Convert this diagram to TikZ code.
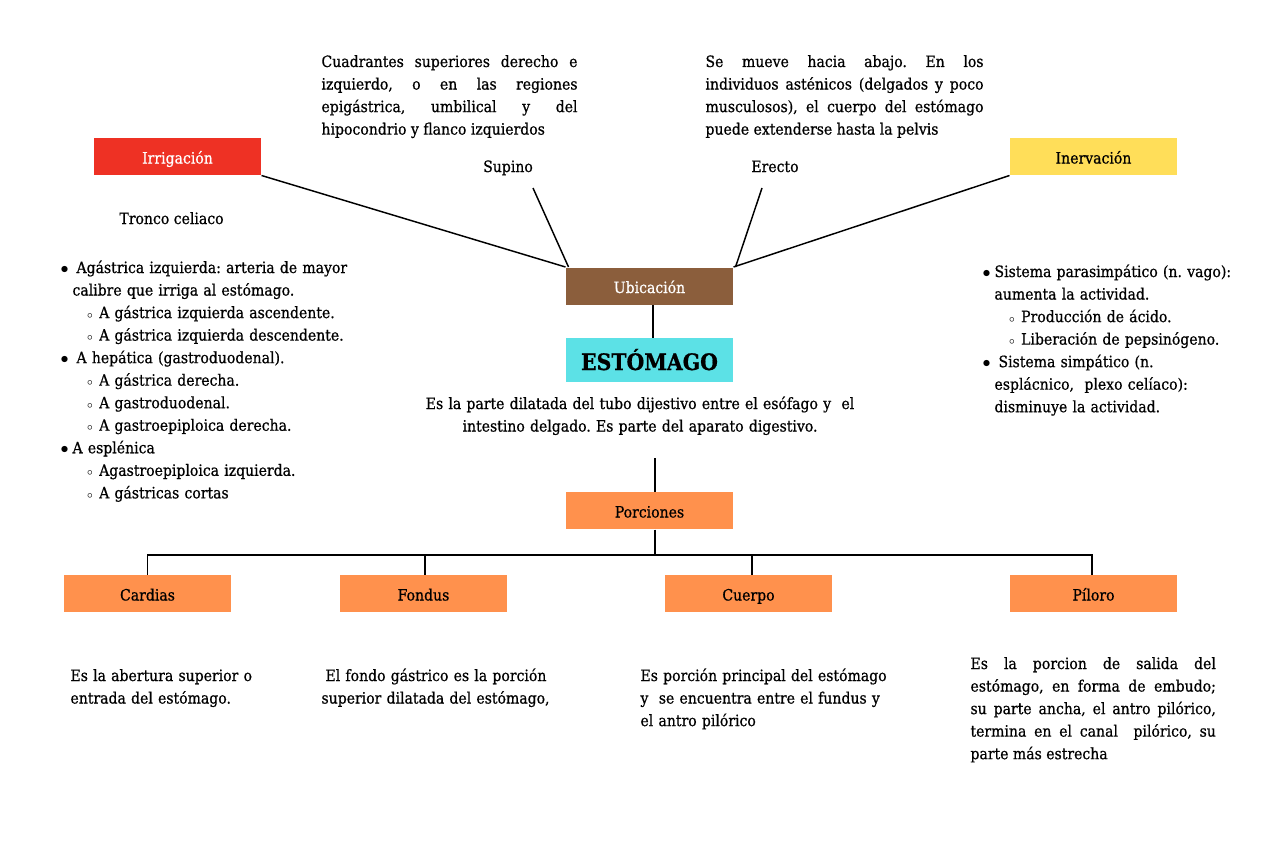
\documentclass[tikz,border=0pt]{standalone}
\usepackage{fontspec}
\setmainfont{DejaVu Serif Condensed}[RawFeature={embolden=0.7}]
\usetikzlibrary{positioning}

\newcommand{\bodyfont}{\fontsize{11.7}{16.9}\selectfont\frenchspacing}
\newcommand{\titlefont}{\fontsize{17}{20}\selectfont\bfseries}
\newcommand{\bulA}{\makebox[9pt][l]{$\bullet$}}
\newcommand{\bulB}{\hspace*{20pt}\makebox[9pt][l]{\footnotesize$\circ$}}

\tikzset{every picture/.style={line width=0.75pt}}
\tikzset{
  box/.style={minimum width=125.25pt, minimum height=27.75pt, inner sep=0pt, font=\bodyfont, text height=10.5pt, text depth=0pt},
  note/.style={inner sep=0pt, font=\bodyfont, anchor=base west, align=left},
  para/.style={inner sep=0pt, font=\bodyfont, anchor=base west, align=justify},
  link/.style={line width=1.1pt}
}

\begin{document}
\begin{tikzpicture}[x=0.75pt,y=0.75pt,yscale=-1,xscale=1]
	\path[use as bounding box] (0,0) rectangle (1280,842);

	%Shape: Rectangle [Irrigacion]
	\node[box, fill={rgb, 255:red, 238; green, 49; blue, 36 }, text=white] (irr) at (177.5,156.5) {Irrigación};
	%Shape: Rectangle [Inervacion]
	\node[box, fill={rgb, 255:red, 255; green, 222; blue, 89 }] (inerv) at (1093.5,156.5) {Inervación};
	%Shape: Rectangle [Ubicacion]
	\node[box, fill={rgb, 255:red, 139; green, 94; blue, 60 }, text=white] (ubic) at (649.5,286) {Ubicación};
	%Shape: Rectangle [Estomago]
	\node[box, minimum height=33pt, text height=15pt, fill={rgb, 255:red, 92; green, 225; blue, 230 }, font=\titlefont] (esto) at (649.5,360) {ESTÓMAGO};
	%Shape: Rectangle [Porciones]
	\node[box, fill={rgb, 255:red, 255; green, 145; blue, 77 }] (porc) at (649.5,510.5) {Porciones};
	%Shape: Rectangle [Cardias]
	\node[box, fill={rgb, 255:red, 255; green, 145; blue, 77 }] (cardias) at (147.5,593.5) {Cardias};
	%Shape: Rectangle [Fondus]
	\node[box, fill={rgb, 255:red, 255; green, 145; blue, 77 }] (fondus) at (423.5,593.5) {Fondus};
	%Shape: Rectangle [Cuerpo]
	\node[box, fill={rgb, 255:red, 255; green, 145; blue, 77 }] (cuerpo) at (748.5,593.5) {Cuerpo};
	%Shape: Rectangle [Piloro]
	\node[box, fill={rgb, 255:red, 255; green, 145; blue, 77 }] (piloro) at (1093.5,593.5) {Píloro};

	% Text Node
	\node[para, text width=192pt] (cuadr) at (321,67) {Cuadrantes superiores derecho e\linebreak izquierdo, o en las regiones\linebreak epigástrica, umbilical y del\linebreak hipocondrio y flanco izquierdos};
	% Text Node
	\node[para, text width=208.5pt] (mueve) at (705,67) {Se mueve hacia abajo. En los\linebreak individuos asténicos (delgados y poco\linebreak musculosos), el cuerpo del estómago\linebreak puede extenderse hasta la pelvis};
	% Text Node
	\node[note, anchor=base] (supino) at (508,172) {Supino};
	% Text Node
	\node[note, anchor=base] (erecto) at (775,172) {Erecto};
	% Text Node
	\node[note, anchor=base] (tronco) at (171.5,224) {Tronco celiaco};
	% Text Node
	\node[note, text width=240pt] (arterias) at (60,273) {\bulA\hspace{3pt}Agástrica izquierda: arteria de mayor\\
		\hspace*{9pt}calibre que irriga al estómago.\\
		\bulB A gástrica izquierda ascendente.\\
		\bulB A gástrica izquierda descendente.\\
		\bulA\hspace{3pt}A hepática (gastroduodenal).\\
		\bulB A gástrica derecha.\\
		\bulB A gastroduodenal.\\
		\bulB A gastroepiploica derecha.\\
		\bulA A esplénica\\
		\bulB Agastroepiploica izquierda.\\
		\bulB A gástricas cortas};
	% Text Node
	\node[note, text width=200pt] (nervios) at (982,277) {\bulA Sistema parasimpático (n. vago):\\
		\hspace*{9pt}aumenta la actividad.\\
		\bulB Producción de ácido.\\
		\bulB Liberación de pepsinógeno.\\
		\bulA\hspace{3pt}Sistema simpático (n.\\
		\hspace*{9pt}esplácnico,\ \ plexo celíaco):\\
		\hspace*{9pt}disminuye la actividad.};
	% Text Node
	\node[note, anchor=base, align=center, text width=340pt] (desc) at (640,409) {Es la parte dilatada del tubo dijestivo entre el esófago y\ \ el\\ intestino delgado. Es parte del aparato digestivo.};
	% Text Node
	\node[note, text width=150pt] (cardtxt) at (70,681) {Es la abertura superior o\\ entrada del estómago.};
	% Text Node
	\node[note, text width=180pt] (fondtxt) at (321,681) {\hspace*{3pt}El fondo gástrico es la porción\\ superior dilatada del estómago,};
	% Text Node
	\node[note, text width=190pt] (cuertxt) at (640,681) {Es porción principal del estómago\\ y\ \ se encuentra entre el fundus y\\ el antro pilórico};
	% Text Node
	\node[para, text width=184pt] (piltxt) at (970,669) {Es la porcion de salida del\linebreak estómago, en forma de embudo;\linebreak su parte ancha, el antro pilórico,\linebreak termina en el canal\ \ pilórico, su\linebreak parte más estrecha};

	%Straight Lines
	\coordinate (supTip) at (533,188);
	\coordinate (ereTip) at (762,188);
	\coordinate (stem) at (655,458);
	\coordinate (bus) at (655,555);
	\draw[link] (irr.south east) -- (ubic.north west);
	\draw[link] (supTip) -- ([xshift=2.25pt]ubic.north west);
	\draw[link] (ereTip) -- ([xshift=1.5pt]ubic.north east);
	\draw[link] (inerv.south west) -- (ubic.north east);
	\draw[link] ([xshift=2.6pt]ubic.south) -- ([xshift=2.6pt]esto.north);
	\draw[link] (stem) -- (stem |- porc.north);
	\draw[link] (stem |- porc.south) -- (bus);
	\draw[link] (cardias.north) |- (bus) -| ([xshift=-1.1pt]piloro.north);
	\draw[link] ([xshift=1.1pt]fondus.north) -- ([xshift=1.1pt]fondus.north |- bus);
	\draw[link] ([xshift=2.6pt]cuerpo.north) -- ([xshift=2.6pt]cuerpo.north |- bus);

\end{tikzpicture}
\end{document}
